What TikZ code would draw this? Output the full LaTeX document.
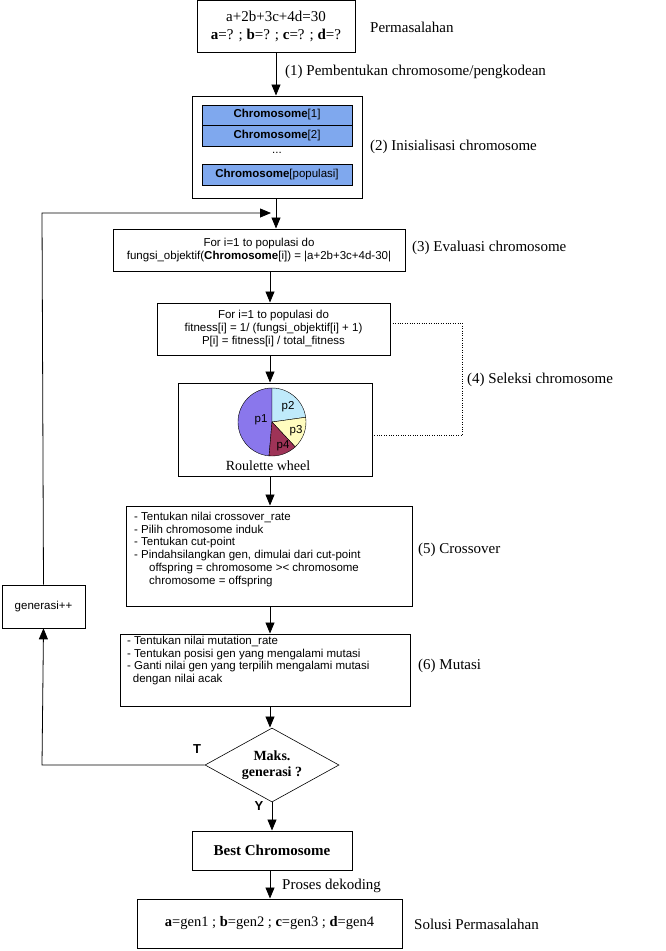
\documentclass[tikz,border=0pt]{standalone}
\usepackage{fontspec}
\setmainfont{Liberation Serif}
\newfontfamily\arialf{Liberation Sans}
\usetikzlibrary{arrows.meta,shapes.geometric}
\definecolor{barblue}{HTML}{7FA8EE}
\begin{document}
\begin{tikzpicture}[x=1pt,y=-1pt,
 box/.style={draw,fill=white,line width=0.6pt},
 arr/.style={line width=0.8pt,-{Triangle[length=11pt,width=9pt]}},
 lab/.style={anchor=west,font=\fontsize{15}{17}\selectfont,inner sep=0},
 st/.style={font=\arialf\fontsize{11.5}{13}\selectfont,align=center},
 sl/.style={font=\arialf\fontsize{11.5}{12.7}\selectfont,align=left,anchor=north west,inner sep=0}]
\useasboundingbox (0,0) rectangle (665,951);
% top box
\node[box,minimum width=158,minimum height=52,align=center,font=\fontsize{15}{18}\selectfont] (b1) at (276,26) {a+2b+3c+4d=30\\\textbf{a}=? ; \textbf{b}=? ; \textbf{c}=? ; \textbf{d}=?};
\node[lab] (l0) at (370,27) {Permasalahan};
% box2
\node[box,minimum width=170,minimum height=102] (b2) at (277,147) {};
\node[draw,fill=barblue,minimum width=150,minimum height=20,inner sep=0,st] (c1) at (277,115) {\textbf{Chromosome}[1]};
\node[draw,fill=barblue,minimum width=150,minimum height=21,inner sep=0,st] (c2) at (277,135.5) {\textbf{Chromosome}[2]};
\node[st] (dots) at (277,153) {...};
\node[draw,fill=barblue,minimum width=150,minimum height=21,inner sep=0,st] (c3) at (277,174.5) {\textbf{Chromosome}[populasi]};
\draw[arr] (b1.south -| 276,0) -- (276,95.5);
\node[lab] (l1) at (285,72) {(1) Pembentukan chromosome/pengkodean};
\node[lab] (l2) at (370,147) {(2) Inisialisasi chromosome};
% box3
\node[box,minimum width=292,minimum height=42,st] (b3) at (259,250) {For i=1 to populasi do\\fungsi\_objektif(\textbf{Chromosome}[i]) = |a+2b+3c+4d-30|};
\draw[arr] (276,198) -- (276,228.5);
\node[lab] (l3) at (412,248) {(3) Evaluasi chromosome};
% box4
\node[box,minimum width=233,minimum height=52,st,font=\arialf\fontsize{11.5}{13}\selectfont] (b4) at (273.5,329) {For i=1 to populasi do\\fitness[i] = 1/ (fungsi\_objektif[i] + 1)\\P[i] = fitness[i] / total\_fitness};
\draw[arr] (270,271) -- (270,302.5);
% box5
\node[box,minimum width=194,minimum height=93] (b5) at (275,429.5) {};
\draw[arr] (270,355) -- (270,382.5);
\coordinate (pc) at (272,422);
\filldraw[fill=blue!45!white!85!violet,draw=black] (pc) -- ++(-90:34) arc[start angle=-90,end angle=-265,radius=34] -- cycle;
\filldraw[fill=cyan!25,draw=black] (pc) -- ++(-90:34) arc[start angle=-90,end angle=-8,radius=34] -- cycle;
\filldraw[fill=yellow!25,draw=black] (pc) -- ++(-8:34) arc[start angle=-8,end angle=47,radius=34] -- cycle;
\filldraw[fill=purple!70!black!80,draw=black] (pc) -- ++(47:34) arc[start angle=47,end angle=95,radius=34] -- cycle;
\node[st] (p1) at (261,420) {p1};
\node[st] (p2) at (288,407) {p2};
\node[st] (p3) at (296,431) {p3};
\node[st] (p4) at (283,446) {p4};
\node[font=\fontsize{14}{16}\selectfont] (rw) at (268,466) {Roulette wheel};
\draw[dotted] (b4.east |- 0,323) -- (462,323) -- (462,435) -- (b5.east |- 0,435);
\node[lab] (l4) at (467,380) {(4) Seleksi chromosome};
% box6
\node[box,minimum width=286,minimum height=100] (b6) at (269,556) {};
\node[sl] (t6) at (134,512) {- Tentukan nilai crossover\_rate\\- Pilih chromosome induk\\- Tentukan cut-point\\- Pindahsilangkan gen, dimulai dari cut-point\\\hspace{1.3em}offspring = chromosome >< chromosome\\\hspace{1.3em}chromosome = offspring};
\draw[arr] (270,476) -- (270,505.5);
\node[lab] (l5) at (418,550) {(5) Crossover};
% box7
\node[box,minimum width=290,minimum height=72] (b7) at (265,670) {};
\node[sl] (t7) at (127,636) {- Tentukan nilai mutation\_rate\\- Tentukan posisi gen yang mengalami mutasi\\- Ganti nilai gen yang terpilih mengalami mutasi\\\hspace{0.5em}dengan nilai acak};
\draw[arr] (270,606) -- (270,633.5);
\node[lab] (l6) at (418,666) {(6) Mutasi};
% diamond
\node[draw,fill=white,diamond,aspect=1.8,minimum width=134,minimum height=74,inner sep=0,align=center,font=\bfseries\fontsize{14}{16}\selectfont,line width=0.6pt] (d) at (272,765) {Maks.\\generasi ?};
\draw[arr] (270,706) -- (270,727.5);
% generasi++
\node[box,minimum width=83,minimum height=43,st] (g) at (43.5,606.5) {generasi++};
\draw[arr] (d.west) -- (42,765) -- (g.south);
\node[font=\arialf\bfseries\fontsize{13}{15}\selectfont] (T) at (197,749) {T};
\draw[arr] (g.north) -- (42,213) -- (271,213);
% best
\node[box,minimum width=160,minimum height=39,font=\bfseries\fontsize{15}{17}\selectfont] (best) at (272,850.5) {Best Chromosome};
\draw[arr] (d.south) -- (272,830.5);
\node[font=\arialf\bfseries\fontsize{13}{15}\selectfont] (Y) at (259,806) {Y};
% final
\node[box,minimum width=265,minimum height=49,font=\fontsize{14.5}{17}\selectfont] (fin) at (269.5,923.5) {\textbf{a}=gen1 ; \textbf{b}=gen2 ; \textbf{c}=gen3 ; \textbf{d}=gen4};
\draw[arr] (270,870) -- (270,898.5);
\node[lab] (l7) at (282,886) {Proses dekoding};
\node[lab] (l8) at (414,924) {Solusi Permasalahan};
\end{tikzpicture}
\end{document}
